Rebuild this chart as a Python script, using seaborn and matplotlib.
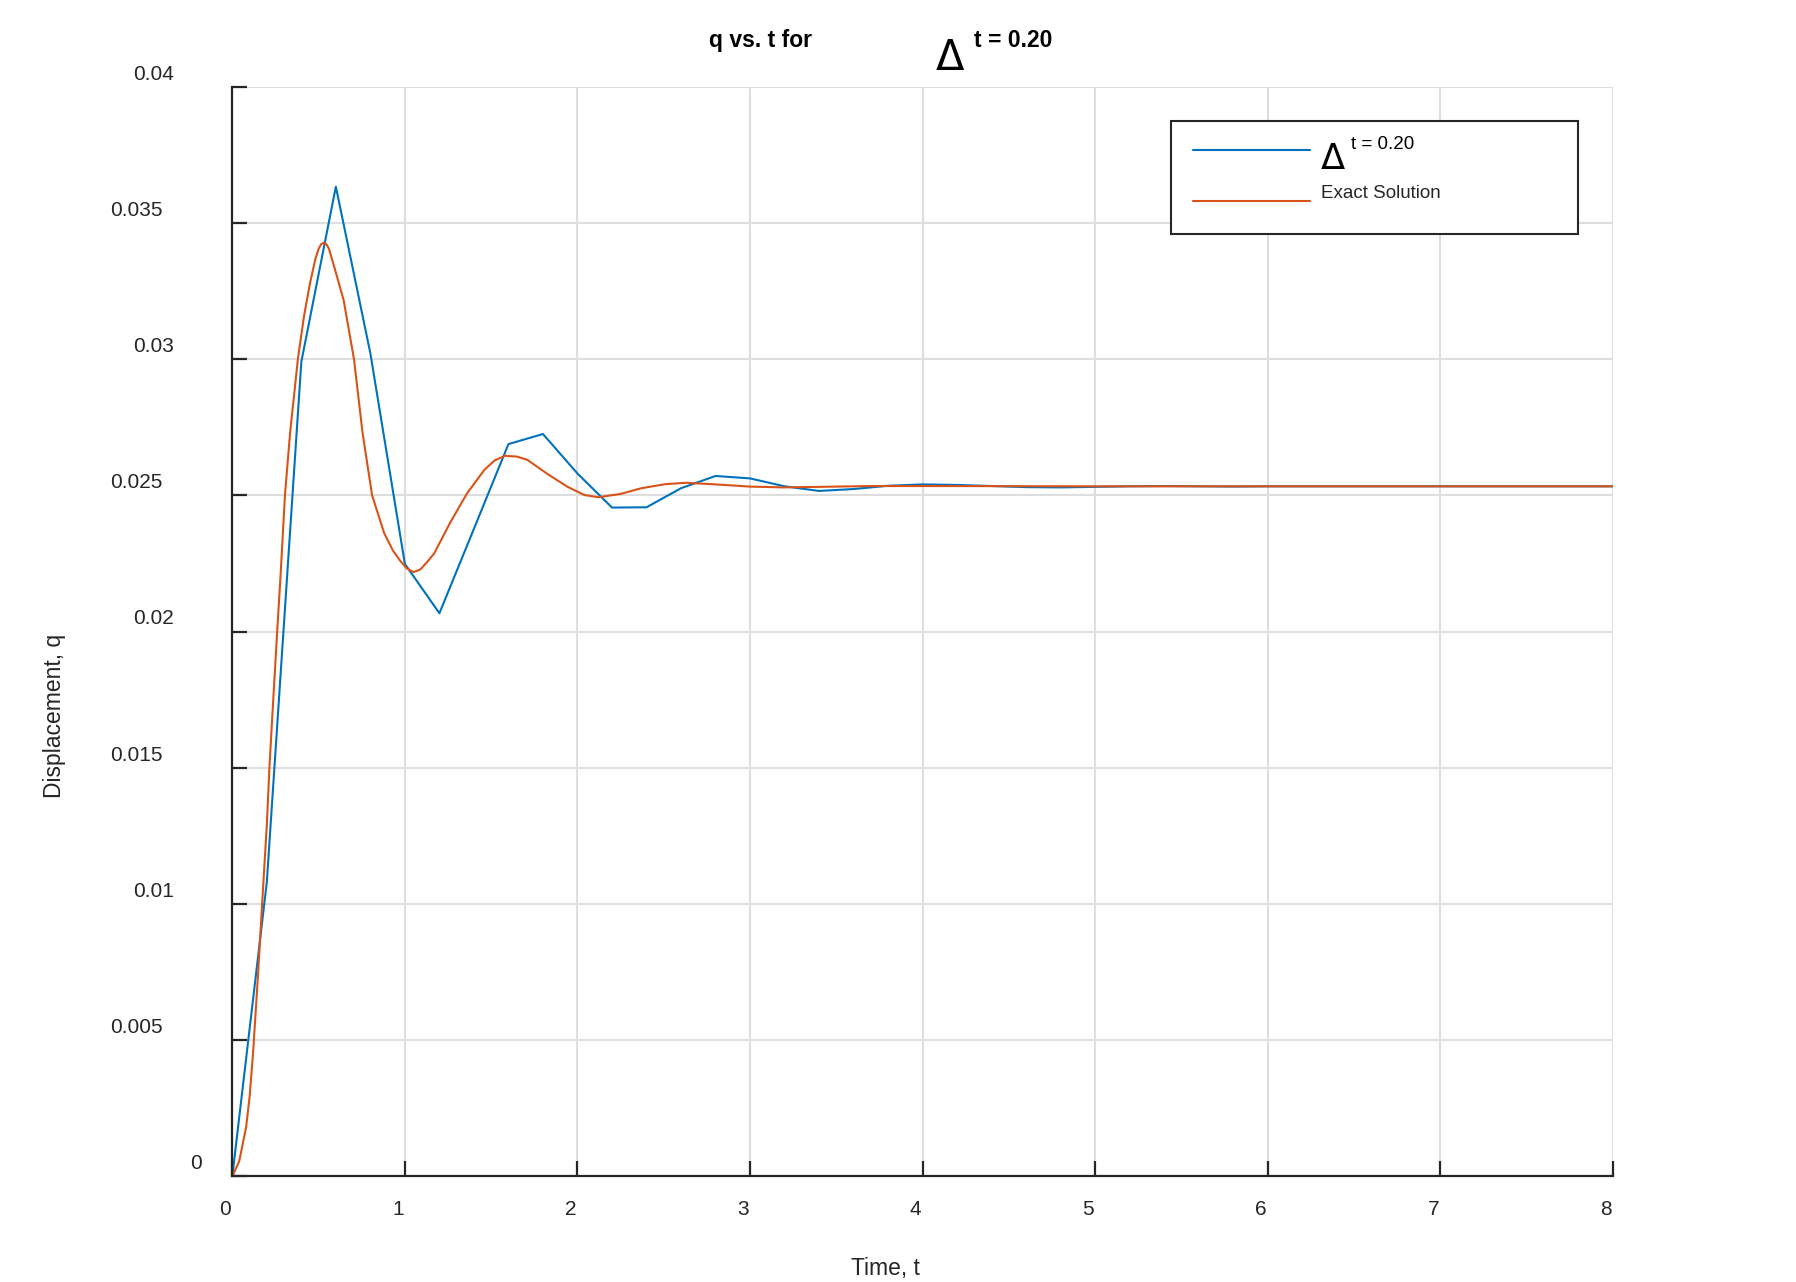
import numpy as np
import pandas as pd
import matplotlib
matplotlib.use("Agg")
import matplotlib.pyplot as plt
import seaborn as sns
from matplotlib.transforms import ScaledTranslation, blended_transform_factory

# numerical solution, dt = 0.20
t_num = [0.0, 0.2, 0.4, 0.6, 0.8, 1.0, 1.2, 1.4, 1.6, 1.8, 2.0, 2.2, 2.4, 2.6,
         2.8, 3.0, 3.2, 3.4, 3.6, 3.8, 4.0, 4.2, 4.4, 4.6, 4.8, 5.0, 5.2, 5.4,
         5.6, 5.8, 6.0, 6.2, 6.4, 6.6, 6.8, 7.0, 7.2, 7.4, 7.6, 7.8, 8.0]
q_num = [0.0, 0.0108, 0.0299, 0.03633, 0.03021, 0.02248, 0.02067, 0.02377,
         0.02688, 0.02725, 0.0258, 0.02455, 0.02456, 0.02526, 0.02571, 0.02562,
         0.02533, 0.02516, 0.02523, 0.02535, 0.0254, 0.02538, 0.02534, 0.0253,
         0.02529, 0.02531, 0.02533, 0.02534, 0.02533, 0.02532, 0.02533, 0.02533,
         0.02533, 0.02533, 0.02533, 0.02533, 0.02533, 0.02533, 0.02533, 0.02533,
         0.02533]

# exact solution
t_ex = [0.0, 0.04, 0.08, 0.1, 0.12, 0.15, 0.17, 0.2, 0.215, 0.24, 0.26, 0.28,
        0.305, 0.335, 0.38, 0.415, 0.45, 0.48, 0.5, 0.515, 0.53, 0.545, 0.56,
        0.59, 0.645, 0.705, 0.755, 0.81, 0.88, 0.93, 0.97, 1.01, 1.05, 1.09,
        1.13, 1.17, 1.26, 1.36, 1.46, 1.52, 1.58, 1.65, 1.71, 1.82, 1.94, 2.04,
        2.12, 2.25, 2.37, 2.51, 2.63, 2.8, 3.0, 3.19, 3.4, 3.7, 4.1, 5.0, 6.0,
        7.0, 8.0]
q_ex = [0.0, 0.00055, 0.0018, 0.0029, 0.0045, 0.0075, 0.0097, 0.0129, 0.015,
        0.0178, 0.02, 0.0221, 0.025, 0.0273, 0.03, 0.03156, 0.03278, 0.03364,
        0.03405, 0.03422, 0.03427, 0.03422, 0.03405, 0.0334, 0.03217, 0.03,
        0.02728, 0.025, 0.02361, 0.02298, 0.02262, 0.02232, 0.02218, 0.02228,
        0.02256, 0.02287, 0.02397, 0.02507, 0.02593, 0.02628, 0.02645, 0.02642,
        0.0263, 0.02581, 0.02532, 0.02501, 0.02493, 0.02505, 0.02526, 0.02541,
        0.02546, 0.0254, 0.02532, 0.02529, 0.02531, 0.02534, 0.02534, 0.02533,
        0.02533, 0.02533, 0.02533]

x_ticks = [0, 1, 2, 3, 4, 5, 6, 7, 8]
y_ticks = [0, 0.005, 0.01, 0.015, 0.02, 0.025, 0.03, 0.035, 0.04]
y_tick_labels = ["0", "0.005", "0.01", "0.015", "0.02", "0.025", "0.03", "0.035", "0.04"]

BLUE = "#0072BD"
ORANGE = "#D95319"
DARK = "#262626"

sns.set_style("white")
plt.rcParams["font.family"] = ["Liberation Sans", "DejaVu Sans"]

W, H = 1796, 1282
fig = plt.figure(figsize=(W / 100, H / 100), dpi=100)


def fpos(x, y):
    # figure fraction from pixel position (origin top-left)
    return x / W, 1 - y / H


ax = fig.add_axes([232.3 / W, 1 - 1176.3 / H, (1613 - 232.3) / W, (1176.3 - 86.7) / H])

df_num = pd.DataFrame({"t": t_num, "q": q_num})
df_ex = pd.DataFrame({"t": t_ex, "q": q_ex})
sns.lineplot(data=df_num, x="t", y="q", ax=ax, color=BLUE, lw=1.5, legend=False)
sns.lineplot(data=df_ex, x="t", y="q", ax=ax, color=ORANGE, lw=1.5, legend=False)

ax.set_xlim(0, 8)
ax.set_ylim(0, 0.04)
ax.set_xlabel("")
ax.set_ylabel("")
ax.grid(True, color="#dedede", lw=1.5)
ax.set_axisbelow(True)
for s in ["top", "right"]:
    ax.spines[s].set_visible(False)
for s in ["left", "bottom"]:
    ax.spines[s].set_color(DARK)
    ax.spines[s].set_linewidth(1.6)

ax.set_xticks(x_ticks, [str(v) for v in x_ticks])
ax.set_yticks(y_ticks)
ax.tick_params(bottom=True, left=True, direction="in", length=10.5, width=1.6,
               color=DARK, labelsize=15, labelcolor=DARK, pad=17, labelleft=False)
shift_left = ScaledTranslation(-7 / 100, 0, fig.dpi_scale_trans)
for lab in ax.get_xticklabels():
    lab.set_transform(lab.get_transform() + shift_left)

# y tick labels, placed like the exported original (shifted up, ragged)
ytrans = blended_transform_factory(fig.transFigure, ax.transData) + \
    ScaledTranslation(0, 12.6 / 100, fig.dpi_scale_trans)
for v, s in zip(y_ticks, y_tick_labels):
    w = sum(0.278 if c == "." else 0.556 for c in s)
    fig.text((213 - 41.2 * w) / W, v, s, transform=ytrans, ha="left", va="center",
             fontsize=15, color=DARK)

fig.text(*fpos(55, 716), "Displacement, q", rotation=90, ha="center", va="center",
         fontsize=16.5, color=DARK)
fig.text(*fpos(885, 1268), "Time, t", ha="center", va="center", fontsize=16.5, color=DARK)

# title: q vs. t for  Δ^(t = 0.20)
fig.text(*fpos(709, 47.3), "q vs. t for", ha="left", va="baseline",
         fontsize=16.5, fontweight="bold", color="black")
fig.text(*fpos(936, 70), "\u0394", ha="left", va="baseline", fontsize=30,
         family="DejaVu Sans", color="black")
fig.text(*fpos(974, 47.3), "t = 0.20", ha="left", va="baseline",
         fontsize=16.5, fontweight="bold", color="black")

# legend
x0, y0 = fpos(1171, 233.3)
x1, y1 = fpos(1577.7, 121)
leg = ax.legend(handles=ax.lines[:2], labels=[" ", "Exact Solution"],
                loc="upper left", bbox_to_anchor=(x0, y0, x1 - x0, y1 - y0),
                bbox_transform=fig.transFigure, mode="expand", borderaxespad=0,
                fontsize=13.5, handlelength=6.24, handletextpad=0.57,
                borderpad=1.19, labelspacing=1.81, fancybox=False,
                framealpha=1, edgecolor=DARK)
leg.get_frame().set_linewidth(1.5)
leg.get_texts()[1].set_y(9)
fig.text(*fpos(1321, 169.3), "\u0394", ha="left", va="baseline", fontsize=25.5,
         family="DejaVu Sans", color="black")
fig.text(*fpos(1350.7, 149.3), "t = 0.20", ha="left", va="baseline", fontsize=13.5,
         color="black")

fig.savefig("out.png", dpi=100)
